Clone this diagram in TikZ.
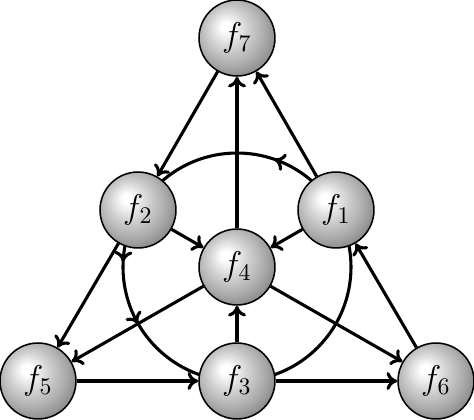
\documentclass[tikz,border=0pt]{standalone}
\usetikzlibrary{arrows.meta,decorations.markings}
\pgfdeclarelayer{bg}
\pgfsetlayers{bg,main}
\pgfdeclareradialshading{lightball}{\pgfpoint{-8bp}{8bp}}{color(0bp)=(white); color(3bp)=(white); color(13bp)=(black!18); color(22bp)=(black!32); color(33bp)=(black!52); color(50bp)=(black!52)}
\begin{document}
\begin{tikzpicture}[x=0.42pt,y=-0.42pt,
  ball/.style={circle,draw=black,line width=0.65pt,shading=lightball,
    minimum size=31.9pt,inner sep=0pt,font=\fontsize{14}{16}\selectfont},
  edge/.style={line width=1.3pt,-{Computer Modern Rightarrow[width=7.5pt,length=4.5pt]}},
  ring/.style={line width=1.3pt,postaction={decorate},
    decoration={markings,
      mark=at position 0.197 with {\arrow{Computer Modern Rightarrow[width=7.5pt,length=4.5pt]}},
      mark=at position 0.493 with {\arrow{Computer Modern Rightarrow[width=7.5pt,length=4.5pt]}},
      mark=at position 0.583 with {\arrow{Computer Modern Rightarrow[width=7.5pt,length=4.5pt]}}}}]
\useasboundingbox (0,0) rectangle (474,420);
\node[ball] (f7) at (237,38)  {$f_7$};
\node[ball] (f2) at (138,210) {$f_2$};
\node[ball] (f1) at (336,210) {$f_1$};
\node[ball] (f4) at (237,267) {$f_4$};
\node[ball] (f5) at (38,381)  {$f_5$};
\node[ball] (f3) at (237,381) {$f_3$};
\node[ball] (f6) at (436,381) {$f_6$};
\begin{pgfonlayer}{bg}
\draw[ring] (f4.center) ++(114,0) arc[start angle=0,end angle=-360,radius=114];
\draw[edge] (f7) -- (f2);
\draw[edge] (f4) -- (f7);
\draw[edge] (f1) -- (f7);
\draw[edge] (f2) -- (f4);
\draw[edge] (f1) -- (f4);
\draw[edge] (f2) -- (f5);
\draw[edge] (f4) -- (f5);
\draw[edge] (f4) -- (f6);
\draw[edge] (f3) -- (f4);
\draw[edge] (f5) -- (f3);
\draw[edge] (f3) -- (f6);
\draw[edge] (f6) -- (f1);
\end{pgfonlayer}
\end{tikzpicture}
\end{document}
